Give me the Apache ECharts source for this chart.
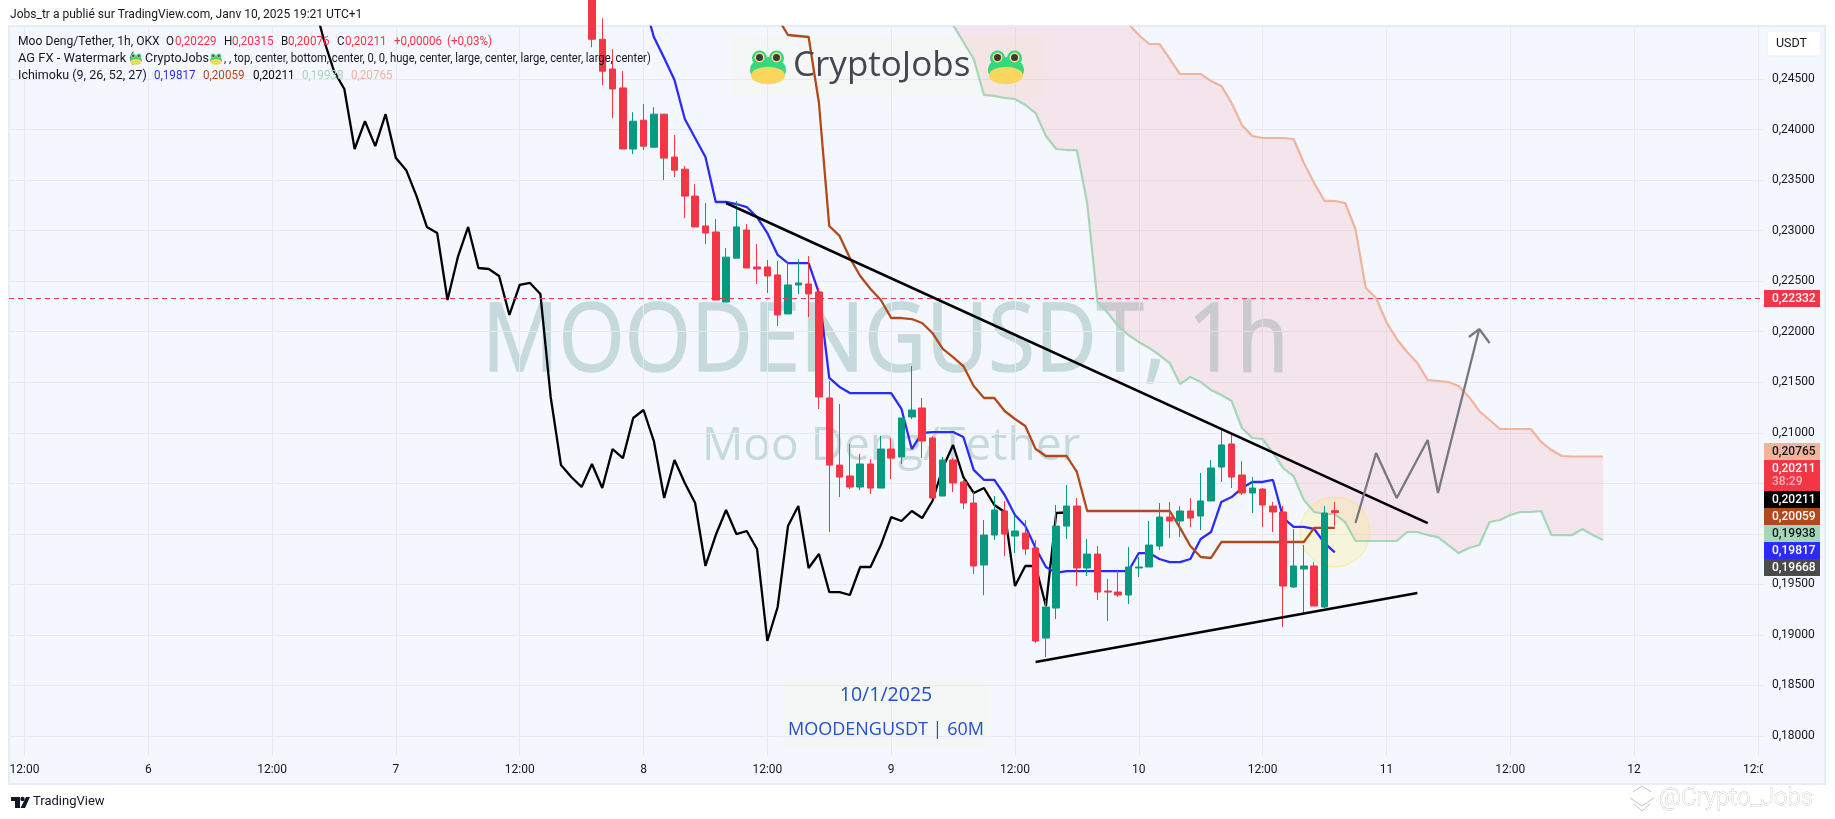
<!DOCTYPE html>
<html>
<head>
<meta charset="utf-8">
<title>MOODENGUSDT 1h</title>
<style>
  html, body { margin: 0; padding: 0; background: #fff; }
  #chart { width: 1835px; height: 819px; }
</style>
<script src="https://cdn.jsdelivr.net/npm/echarts@6/dist/echarts.min.js"></script>
</head>
<body>
<div id="chart"></div>
<script>
// ── Axis ticks ───────────────────────────────────────────────────────────────
const priceTicks = [0.18, 0.185, 0.19, 0.195, 0.20, 0.205, 0.21, 0.215, 0.22, 0.225, 0.23, 0.235, 0.24, 0.245];
const timeTicks = ['12:00', '6', '12:00', '7', '12:00', '8', '12:00', '9', '12:00', '10', '12:00', '11', '12:00', '12', '12:00'];
const hoursPerTick = 12;
const firstTickBar = 1;
const barCount = 170;

// ── Candles, bar 55 onwards (the ones before are above the visible range) ────
const candleStart = 55;
const opens = [0.2560, 0.2528, 0.24893, 0.24599, 0.24411, 0.23807, 0.24092, 0.23825, 0.24152, 0.23727,
  0.23608, 0.23341, 0.23046, 0.22986, 0.22293, 0.22727, 0.23006, 0.22640, 0.22640, 0.22561,
  0.22175, 0.22462, 0.22472, 0.22393, 0.21344, 0.2068, 0.20572, 0.20463, 0.20691, 0.20453,
  0.20839, 0.20760, 0.21156, 0.21245, 0.20948, 0.20374, 0.2073, 0.20513, 0.20305, 0.19692,
  0.19988, 0.20226, 0.19978, 0.20008, 0.1986, 0.18969, 0.19266, 0.20077, 0.20275, 0.19662,
  0.198, 0.19434, 0.19424, 0.19395, 0.19662, 0.19672, 0.19879, 0.20166, 0.20127, 0.20226,
  0.20176, 0.20325, 0.20661, 0.20889, 0.20582, 0.20404, 0.20443, 0.20275, 0.20216, 0.19474,
  0.19652, 0.19682, 0.19276, 0.20229];
const closes = [0.2528, 0.24893, 0.24577, 0.24401, 0.23807, 0.24082, 0.23835, 0.24152, 0.23717, 0.23598,
  0.23341, 0.23036, 0.22976, 0.22313, 0.22737, 0.23036, 0.2263, 0.2262, 0.22551, 0.22165,
  0.22462, 0.22482, 0.22373, 0.21354, 0.2068, 0.20562, 0.20463, 0.20691, 0.20453, 0.20839,
  0.20749, 0.21146, 0.21225, 0.20918, 0.20354, 0.2073, 0.20503, 0.20305, 0.19682, 0.19988,
  0.20236, 0.19998, 0.20028, 0.1985, 0.1894, 0.19276, 0.20077, 0.20275, 0.19662, 0.198,
  0.19424, 0.19424, 0.19395, 0.19672, 0.19672, 0.19889, 0.20166, 0.20127, 0.20226, 0.20156,
  0.20325, 0.20651, 0.20879, 0.20562, 0.20404, 0.20453, 0.20285, 0.20216, 0.19484, 0.19682,
  0.19682, 0.19286, 0.20206, 0.20211];
const lows = [0.2520, 0.24814, 0.24438, 0.24112, 0.23807, 0.23756, 0.23797, 0.23825, 0.2350, 0.2353,
  0.23123, 0.23036, 0.22867, 0.22313, 0.22293, 0.22727, 0.2263, 0.22472, 0.22383, 0.22056,
  0.22175, 0.22373, 0.22144, 0.21235, 0.20018, 0.20364, 0.20443, 0.20433, 0.20394, 0.20453,
  0.20542, 0.20691, 0.21136, 0.20749, 0.20354, 0.20374, 0.20414, 0.20246, 0.19603, 0.19395,
  0.19939, 0.1978, 0.1981, 0.1979, 0.1892, 0.18781, 0.19157, 0.19949, 0.19484, 0.19582,
  0.19345, 0.19137, 0.19375, 0.19306, 0.19573, 0.19672, 0.1984, 0.19958, 0.19968, 0.20067,
  0.20038, 0.20325, 0.20513, 0.20453, 0.20384, 0.20206, 0.20067, 0.20018, 0.19078, 0.19464,
  0.19207, 0.19286, 0.19266, 0.20076];
const highs = [0.2570, 0.2530, 0.2510, 0.24794, 0.24577, 0.24171, 0.24251, 0.24221, 0.24152, 0.23944,
  0.23638, 0.2346, 0.23273, 0.23115, 0.22827, 0.23293, 0.23065, 0.22867, 0.22708, 0.22698,
  0.22689, 0.22718, 0.22747, 0.22432, 0.21512, 0.21284, 0.20889, 0.2079, 0.2074, 0.20968,
  0.20948, 0.21146, 0.2166, 0.21344, 0.20968, 0.2076, 0.2075, 0.20532, 0.20414, 0.20137,
  0.20374, 0.20325, 0.20186, 0.20137, 0.19939, 0.19345, 0.20285, 0.20483, 0.20354, 0.19949,
  0.19879, 0.19553, 0.19632, 0.19869, 0.1977, 0.20127, 0.20305, 0.20315, 0.20275, 0.20354,
  0.20602, 0.2073, 0.21047, 0.20997, 0.2072, 0.20562, 0.20453, 0.20315, 0.20275, 0.20047,
  0.19889, 0.1972, 0.20275, 0.20315];

// ── Ichimoku ─────────────────────────────────────────────────────────────────
const chikouShift = 26;
const tenkanStart = 61;
const tenkan = [0.2528, 0.24915, 0.24707, 0.2449, 0.24104, 0.23916, 0.23728, 0.23283, 0.23283, 0.23263,
  0.23233, 0.23134, 0.22976, 0.22759, 0.22679, 0.22679, 0.22679, 0.22383, 0.21542, 0.21453,
  0.21393, 0.21393, 0.21393, 0.21393, 0.21393, 0.21235, 0.20839, 0.20998, 0.21007, 0.21007,
  0.21007, 0.20958, 0.20632, 0.20533, 0.20533, 0.20384, 0.20186, 0.20078, 0.1986, 0.19672,
  0.19613, 0.19632, 0.19632, 0.19632, 0.19632, 0.19632, 0.19632, 0.19632, 0.1981, 0.1981,
  0.19751, 0.19721, 0.19721, 0.19751, 0.19949, 0.20018, 0.20315, 0.20364, 0.20453, 0.20513,
  0.20513, 0.20533, 0.20157, 0.20068, 0.20068, 0.20048, 0.19909, 0.19817];
const kijunStart = 74;
const kijun = [0.25103, 0.24935, 0.24925, 0.24915, 0.24262, 0.23045, 0.22947, 0.22729, 0.22551, 0.22422,
  0.22313, 0.22135, 0.22135, 0.22125, 0.22086, 0.21987, 0.21829, 0.21749, 0.2166, 0.21463,
  0.21344, 0.21344, 0.21215, 0.21136, 0.21067, 0.20839, 0.2077, 0.2077, 0.2077, 0.20612,
  0.20226, 0.20226, 0.20226, 0.20226, 0.20226, 0.20226, 0.20226, 0.20226, 0.20226, 0.20059,
  0.1988, 0.19771, 0.19761, 0.19919, 0.19919, 0.19919, 0.19919, 0.19919, 0.19919, 0.19919,
  0.19919, 0.19919, 0.20059, 0.20059, 0.20059];
const spanAStart = 90;
const spanA = [0.25192, 0.25034, 0.24866, 0.24698, 0.24342, 0.24332, 0.24312, 0.24302, 0.24243, 0.24163,
  0.23936, 0.23807, 0.23797, 0.23797, 0.23273, 0.22293, 0.22185, 0.22056, 0.21967, 0.21898,
  0.21839, 0.21769, 0.2169, 0.21482, 0.21552, 0.21502, 0.21423, 0.21374, 0.21314, 0.21047,
  0.20948, 0.20938, 0.208, 0.20651, 0.20572, 0.20335, 0.20216, 0.20196, 0.20196, 0.20117,
  0.19929, 0.19929, 0.19929, 0.19929, 0.19929, 0.20018, 0.20018, 0.19988, 0.19968, 0.19889,
  0.1981, 0.1986, 0.19889, 0.20117, 0.20137, 0.20186, 0.20216, 0.20216, 0.20226, 0.19988,
  0.19988, 0.19988, 0.20048, 0.19988, 0.19938];
const spanBStart = 107;
const spanB = [0.25182, 0.25044, 0.24935, 0.24846, 0.24846, 0.24698, 0.24549, 0.24549, 0.24549, 0.2448,
  0.24431, 0.24262, 0.24045, 0.23936, 0.23916, 0.23916, 0.23916, 0.23906, 0.23669, 0.23471,
  0.23293, 0.23293, 0.23273, 0.23016, 0.22432, 0.22333, 0.22096, 0.21928, 0.21799, 0.2169,
  0.21522, 0.21512, 0.21502, 0.21463, 0.21354, 0.21215, 0.21126, 0.21037, 0.21037, 0.21037,
  0.21037, 0.20909, 0.20829, 0.2077, 0.20765, 0.20765, 0.20765, 0.20765];

// ── Drawings on the chart ────────────────────────────────────────────────────
const resistanceLine = [[69, 0.23273], [137, 0.20107]];
const supportLine = [[99, 0.18732], [136, 0.19415]];
const projection = [[130, 0.20107], [132, 0.2080], [134, 0.20354], [137, 0.20928], [138, 0.20404], [142, 0.22026]];
const arrowHead = [[141, 0.21947], [142, 0.22026], [143, 0.21888]];
const circleCenter = [128, 0.20018];
const alertPrice = 0.22332;

// ── Texts ────────────────────────────────────────────────────────────────────
const publishedBy = 'Jobs_tr a publié sur TradingView.com, Janv 10, 2025 19:21 UTC+1';
const symbolWatermark = 'MOODENGUSDT, 1h';
const nameWatermark = 'Moo Deng/Tether';
const priceTags = [
  ['0,22332', 290, 17, '#f23645', '#ffffff'],
  ['0,20765', 443, 17, '#f0b49b', '#131722'],
  ['0,20211', 460, 31, '#f23645', '#ffffff'],
  ['0,20211', 491, 17, '#000000', '#ffffff'],
  ['0,20059', 508, 17, '#b2491c', '#ffffff'],
  ['0,19938', 525, 17, '#a5d6b5', '#131722'],
  ['0,19817', 542, 17, '#2b2bff', '#ffffff'],
  ['0,19668', 559, 17, '#4a4a4a', '#ffffff']
];

const UP = '#089981', DOWN = '#f23645', INK = '#131722';
const BLUE = '#2b2bff', BROWN = '#b2491c', GREEN_L = '#a5d6b5', SALMON = '#f0b49b', ARROW = '#77777f';
const WATERMARK = '#c6d9dd';
const FONT = 'Roboto';

// ── Helpers ──────────────────────────────────────────────────────────────────
const fromStart = (start, values) => values.map((v, k) => [start + k, v]);

const barLabels = new Array(barCount).fill('');
timeTicks.forEach((t, k) => {
  const bar = firstTickBar + k * hoursPerTick;
  if (bar < barCount) barLabels[bar] = t;
});
const isTickBar = (idx) => barLabels[idx] !== '';

function txt(x, y, text, fill, size, extra, scaleX) {
  return {
    type: 'text', x, y, z: 5, silent: true, scaleX: scaleX || 1,
    style: Object.assign({ text, fill, font: `${size || 12.5}px ${FONT}`, verticalAlign: 'middle', align: 'left' }, extra || {})
  };
}
const val = (x, y, text, fill) => txt(x, y, text, fill, 12.5, null, 0.93);

function frog(cx, cy, size) {
  const s = size / 36;
  const dot = (dx, dy, r, fill, scaleY) => ({
    type: 'circle', x: cx + dx * s, y: cy + dy * s, scaleY: scaleY || 1, z: 5, silent: true,
    shape: { r: r * s }, style: { fill }
  });
  return [
    dot(-8.5, -9, 7.5, '#2fd67f'), dot(8.5, -9, 7.5, '#2fd67f'),
    dot(0, 3, 18, '#34d880', 0.72),
    dot(0, 8.5, 17, '#f9d65c', 0.52),
    dot(-8.5, -9.5, 5, '#f7e08a'), dot(8.5, -9.5, 5, '#f7e08a'),
    dot(-8.5, -9.5, 3.5, '#3d3a3a'), dot(8.5, -9.5, 3.5, '#3d3a3a')
  ];
}

const legendRows = [
  txt(18, 42, 'Moo Deng/Tether, 1h, OKX', INK, 12.5, null, 0.97),
  val(166, 42, 'O', INK), val(175, 42, '0,20229', DOWN),
  val(224, 42, 'H', INK), val(232, 42, '0,20315', DOWN),
  val(281, 42, 'B', INK), val(288, 42, '0,20076', DOWN),
  val(337, 42, 'C', INK), val(345, 42, '0,20211', DOWN),
  val(394, 42, '+0,00006', DOWN), val(447, 42, '(+0,03%)', DOWN),
  txt(18, 59, 'AG FX - Watermark (', INK, 12.5, null, 1.03),
  txt(145, 59, 'CryptoJobs', INK, 12.5, null, 1),
  txt(224, 59, ', , top, center, bottom, center, 0, 0, huge, center, large, center, large, center, large, center)', INK, 12.5, null, 0.895),
  txt(18, 76, 'Ichimoku (9, 26, 52, 27)', INK),
  val(154, 76, '0,19817', BLUE), val(203, 76, '0,20059', BROWN), val(253, 76, '0,20211', '#000'),
  val(302, 76, '0,19938', GREEN_L), val(351, 76, '0,20765', SALMON)
];

const tagElements = [];
priceTags.forEach(([label, y, h, bg, fg]) => {
  tagElements.push({ type: 'rect', z: 6, silent: true, shape: { x: 1764, y, width: 56, height: h }, style: { fill: bg } });
  const t = txt(1772, y + 8.5, label, fg, 12, { font: `500 12px ${FONT}` });
  t.z = 7;
  tagElements.push(t);
});
const countdown = txt(1772, 482, '38:29', '#f9b3ba', 12, { font: `500 12px ${FONT}` });
countdown.z = 7;
tagElements.push(countdown);

// ── Chart ────────────────────────────────────────────────────────────────────
const chart = echarts.init(document.getElementById('chart'), null, { renderer: 'canvas' });

chart.setOption({
  animation: false,
  backgroundColor: '#ffffff',
  textStyle: { fontFamily: FONT },
  grid: { left: 9, right: 72, top: 27, bottom: 63 },
  xAxis: {
    type: 'category',
    data: barLabels,
    boundaryGap: true,
    axisLine: { show: false },
    axisTick: { show: false, alignWithLabel: true, interval: (idx) => isTickBar(idx) },
    axisLabel: { interval: (idx) => isTickBar(idx), color: INK, fontSize: 12, margin: 8, hideOverlap: false },
    splitLine: { show: true, alignWithLabel: true, interval: (idx) => isTickBar(idx), lineStyle: { color: '#e6e9f2', width: 1 } }
  },
  yAxis: {
    type: 'value',
    position: 'right',
    min: 0.178021,
    max: 0.250141,
    scale: true,
    axisLine: { show: false },
    axisTick: { show: false, customValues: priceTicks },
    axisLabel: {
      customValues: priceTicks, color: INK, fontSize: 12, margin: 9, align: 'left',
      formatter: (v) => v.toFixed(5).replace('.', ',')
    },
    splitLine: { show: true, lineStyle: { color: '#e6e9f3', width: 1 } }
  },
  graphic: { elements: [
    // panel behind the plot
    { type: 'rect', z: -2, silent: true, shape: { x: 9, y: 26, width: 1816, height: 758 },
      style: { fill: '#f4f7fe', stroke: '#e9ecf5', lineWidth: 2 } },
    // watermark indicator
    { type: 'rect', z: -1, silent: true, shape: { x: 732, y: 36, width: 310, height: 61 }, style: { fill: '#f5f7f6' } },
    txt(793, 66, 'CryptoJobs', '#434651', 35, { font: `35px 'Open Sans'` }),
    ...frog(768, 67, 36),
    ...frog(1006, 67, 36),
    { type: 'rect', z: -1, silent: true, shape: { x: 783, y: 678, width: 207, height: 69 }, style: { fill: '#f5f7f6' } },
    txt(886, 695, '10/1/2025', '#2350c8', 19.5, { align: 'center', font: `19.5px 'Open Sans'` }),
    txt(886, 730, 'MOODENGUSDT | 60M', '#2350c8', 18, { align: 'center', font: `18px 'Open Sans'` }),
    // big symbol watermarks
    { type: 'text', x: 482, y: 344, z: 0, silent: true, scaleX: 0.887,
      style: { text: symbolWatermark, fill: WATERMARK, stroke: WATERMARK, lineWidth: 1.5, font: `96px 'Open Sans'`, verticalAlign: 'middle' } },
    { type: 'text', x: 702, y: 447, z: 0, silent: true,
      style: { text: nameWatermark, fill: WATERMARK, font: `46px 'Open Sans'`, verticalAlign: 'middle' } },
    // top and bottom page texts
    txt(10, 15, publishedBy, INK, 13, null, 0.926),
    ...legendRows,
    ...frog(136, 59, 12),
    ...frog(216, 59, 12),
    // clips the last time label like the price scale does
    { type: 'rect', z: 4, silent: true, shape: { x: 1763, y: 757, width: 61, height: 26 }, style: { fill: '#f4f7fe' } },
    { type: 'rect', z: 5, silent: true, shape: { x: 1767, y: 31, width: 54, height: 25, r: 3 }, style: { fill: '#ffffff', stroke: '#eceef5', lineWidth: 1 } },
    txt(1776, 44, 'USDT', INK, 12.5),
    ...tagElements,
    // TradingView logo and name
    { type: 'polygon', z: 5, silent: true, shape: { points: [[11, 797], [20, 797], [20, 808], [15, 808], [15, 801], [11, 801]] }, style: { fill: INK } },
    { type: 'circle', z: 5, silent: true, shape: { cx: 22.5, cy: 799, r: 2.2 }, style: { fill: INK } },
    { type: 'polygon', z: 5, silent: true, shape: { points: [[26, 797], [30, 797], [25, 808], [20.5, 808]] }, style: { fill: INK } },
    txt(33, 802, 'TradingView', INK, 13),
    // repost mark
    { type: 'polyline', z: 5, silent: true, shape: { points: [[1633, 792], [1642, 786], [1651, 792]] }, style: { stroke: '#c2c2c2', fill: null, lineWidth: 1 } },
    { type: 'polyline', z: 5, silent: true, shape: { points: [[1630, 798], [1642, 806], [1654, 798]] }, style: { stroke: '#c2c2c2', fill: null, lineWidth: 1 } },
    { type: 'polyline', z: 5, silent: true, shape: { points: [[1634, 804], [1642, 811], [1650, 804]] }, style: { stroke: '#c2c2c2', fill: null, lineWidth: 1 } },
    txt(1659, 799, '@Crypto_Jobs', '#ffffff', 24, { stroke: '#c4c4c4', lineWidth: 0.8, font: `300 24px ${FONT}` })
  ] },
  series: [
    {
      // kumo cloud between the two spans
      type: 'custom',
      name: 'Kumo',
      z: 1,
      clip: true,
      silent: true,
      data: [[0, 0]],
      renderItem: (params, api) => {
        const upper = fromStart(spanBStart, spanB);
        const lower = fromStart(spanAStart, spanA);
        const points = lower.concat(upper.slice().reverse()).map((p) => api.coord(p));
        return { type: 'polygon', shape: { points }, style: { fill: 'rgba(242,54,69,0.09)' } };
      }
    },
    {
      type: 'scatter',
      name: 'Highlight',
      z: 1,
      silent: true,
      symbolSize: 70,
      data: [circleCenter],
      itemStyle: { color: 'rgba(255,236,90,0.22)', borderColor: 'rgba(250,225,90,0.55)', borderWidth: 1, opacity: 1 }
    },
    { type: 'line', name: 'Span A', z: 2, symbol: 'none', silent: true, data: fromStart(spanAStart, spanA), lineStyle: { color: GREEN_L, width: 2.2 } },
    { type: 'line', name: 'Span B', z: 2, symbol: 'none', silent: true, data: fromStart(spanBStart, spanB), lineStyle: { color: SALMON, width: 2.2 } },
    { type: 'line', name: 'Chikou', z: 3, symbol: 'none', silent: true, data: fromStart(candleStart - chikouShift, closes), lineStyle: { color: '#000000', width: 2.3 } },
    { type: 'line', name: 'Tenkan', z: 3, symbol: 'none', silent: true, data: fromStart(tenkanStart, tenkan), lineStyle: { color: BLUE, width: 2.3 } },
    { type: 'line', name: 'Kijun', z: 3, symbol: 'none', silent: true, data: fromStart(kijunStart, kijun), lineStyle: { color: BROWN, width: 2.3 } },
    {
      type: 'candlestick',
      name: 'MOODENGUSDT',
      z: 4,
      silent: true,
      barWidth: 7,
      data: fromStart(candleStart, opens).map(([bar, o], k) => [bar, o, closes[k], lows[k], highs[k]]),
      encode: { x: 0, y: [1, 2, 3, 4] },
      itemStyle: { color: UP, color0: DOWN, borderColor: UP, borderColor0: DOWN, borderWidth: 1 },
      markLine: {
        silent: true,
        symbol: 'none',
        precision: 5,
        label: { show: false },
        lineStyle: { color: DOWN, type: [5, 4], width: 1 },
        data: [{ yAxis: alertPrice }]
      }
    },
    { type: 'line', name: 'Resistance', z: 5, symbol: 'none', silent: true, data: resistanceLine, lineStyle: { color: '#000000', width: 2.5 } },
    { type: 'line', name: 'Support', z: 5, symbol: 'none', silent: true, data: supportLine, lineStyle: { color: '#000000', width: 2.5 } },
    { type: 'line', name: 'Projection', z: 5, symbol: 'none', silent: true, data: projection, lineStyle: { color: ARROW, width: 2.3 } },
    { type: 'line', name: 'Projection head', z: 5, symbol: 'none', silent: true, data: arrowHead, lineStyle: { color: ARROW, width: 2.3 } }
  ]
});
</script>
</body>
</html>
